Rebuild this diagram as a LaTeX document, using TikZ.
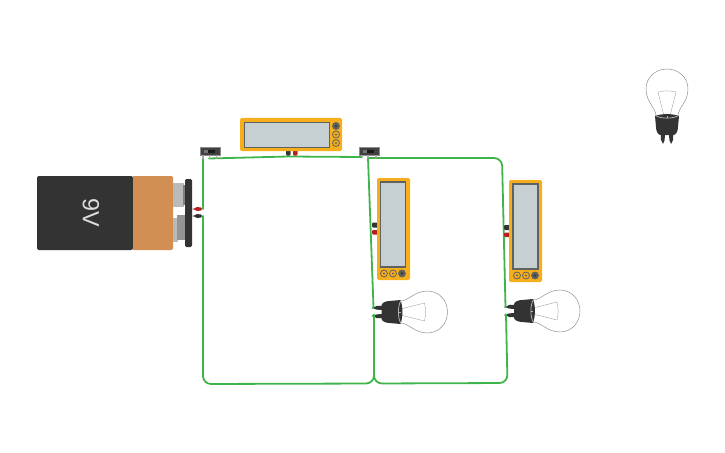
\documentclass[tikz,border=0pt]{standalone}
\usepackage{fontspec}
\setmainfont{Liberation Sans}
\definecolor{wiregreen}{HTML}{3FB44B}
\definecolor{dark}{HTML}{333333}
\definecolor{copperc}{HTML}{D18F53}
\definecolor{meterc}{HTML}{F6AE1C}
\definecolor{screenc}{HTML}{C6CFD1}
\definecolor{framec}{HTML}{5F6360}
\definecolor{redlead}{HTML}{B5201F}
\definecolor{pinc}{HTML}{A8A8A8}
\tikzset{
  wire/.style={draw=wiregreen,line width=1.35pt,line cap=round,line join=round},
  bentwire/.style={wire,rounded corners=6pt},
  pinline/.style={draw=pinc,line width=1pt},
  box/.style={rectangle,inner sep=0pt,outer sep=0pt,anchor=north west},
  switchbody/.style={box,fill=black!75,draw=black!45,line width=.5pt,minimum width=15pt,minimum height=5.6pt},
  meterbody/.style={fill=meterc,draw=none,rounded corners=1.5pt},
  meterscreen/.style={fill=screenc,draw=framec,line width=1.2pt},
  knob/.style={circle,draw=framec,fill=meterc,line width=.6pt,inner sep=0pt,minimum size=5.2pt,
     path picture={\fill[framec] (path picture bounding box.center) circle (.8pt);}},
  knobdark/.style={circle,draw=framec,fill=framec,line width=.6pt,inner sep=0pt,minimum size=5.2pt,
     path picture={\fill[black!75] (path picture bounding box.center) circle (1.2pt);}},
  blacklead/.style={fill=dark,draw=none,rounded corners=.8pt},
  redleadst/.style={fill=redlead,draw=none,rounded corners=.8pt},
  glass/.style={draw=black!45,line width=.35pt,fill=white},
  pics/bulb/.style={code={
    \path[glass] (-11,47) .. controls (-11,39) and (-21,33) .. (-21,20)
      .. controls (-21,8) and (-11,0) .. (0,0)
      .. controls (11,0) and (21,8) .. (21,20)
      .. controls (21,33) and (11,39) .. (11,47) -- cycle;
    \draw[draw=black!35,line width=.3pt] (-3,47) -- (-9,23) .. controls (-3,21.5) and (3,21.5) .. (9,23) -- (3,47);
    \fill[dark] (-6.5,66) .. controls (-9,66) and (-11,62) .. (-11,58) -- (-12,47)
      .. controls (-6,44.5) and (6,44.5) .. (12,47)
      -- (11,58) .. controls (11,62) and (9,66) .. (6.5,66) -- cycle;
    \draw[draw=black!30,line width=.6pt] (-11.5,46.5) .. controls (-6,50) and (6,50) .. (11.5,46.5);
    \draw[draw=black!30,line width=.3pt] (0,47) -- (0,49);
    \fill[dark] (-6.3,65) -- (-6,71) -- (-4,75) -- (-2.4,71) -- (-2,65) -- cycle;
    \fill[dark] (2,65) -- (2.4,71) -- (4,75) -- (6,71) -- (6.3,65) -- cycle;
    \coordinate (-a) at (-4,75);
    \coordinate (-b) at (4,75);
  }}
}
\begin{document}
\begin{tikzpicture}[x=.75pt,y=-.75pt]
\useasboundingbox (0,0) rectangle (725,453);

% named end points of the wiring
\coordinate (s1l) at (203,155);
\coordinate (s1r) at (209,158.5);
\coordinate (s2l) at (362,157);
\coordinate (s2r) at (368,158);
\coordinate (batp) at (203,209);
\coordinate (batn) at (203,216);
\coordinate (m1k) at (288,156.5);
\coordinate (b2k) at (373.5,307);
\coordinate (b2r) at (374,315);
\coordinate (b3k) at (505.5,307);
\coordinate (b3r) at (506,314.5);
\coordinate (corner) at (374,383.5);

% bulbs
\pic (bulbtop) at (667,69) {bulb};
\pic[rotate=-90] (bulbb) at (447.5,312) {bulb};
\pic[rotate=-90] (bulbc) at (580,311) {bulb};

% wires
\draw[wire] (batp) -- (s1l);
\draw[bentwire] (batn) -- (203,384) -- (corner) -- (b2r);
\draw[wire] (s1r) -- (m1k) -- (s2l);
\draw[wire] (s2r) -- (b2k);
\draw[bentwire] (s2r) -- (502,158) -- (b3k);
\draw[bentwire] (b3r) -- (507.5,383) -- (corner) -- (b2r);
\draw[wire] (bulbb-a) -- (b2k);
\draw[wire] (bulbb-b) -- (b2r);
\draw[wire] (bulbc-a) -- (b3k);
\draw[wire] (bulbc-b) -- (b3r);

% switches
\node[switchbody] (sw1) at (200,147.5) {};
\node[switchbody] (sw2) at (359,147.5) {};
\fill[black!55] (204,149.5) rectangle (208,153);
\fill[black!55] (363,149.5) rectangle (367,153);
\fill[black!90] (208,149.5) rectangle (215,153);
\fill[black!90] (367,149.5) rectangle (374,153);
\draw[pinline] (203,155) -- (203,159);
\draw[pinline] (209.5,155) -- (209.5,158.5);
\draw[pinline] (216.5,155) -- (216.5,158.5);
\draw[pinline] (362,155) -- (362,157);
\draw[pinline] (368,155) -- (368,158);
\draw[pinline] (376,155) -- (376,158);

% battery
\node[box,minimum width=96*.75pt,minimum height=74*.75pt,fill=dark,rounded corners=1.5pt] (batbody) at (37,176) {};
\node[box,minimum width=40*.75pt,minimum height=74*.75pt,fill=copperc,rounded corners=1pt] (batcop) at (133,176) {};
\fill[copperc] (133,176) rectangle (140,250);
\node[text=white!87!black,font=\fontsize{17.5pt}{17.5pt}\selectfont,rotate=-90] (vlabel) at (91,213) {9V};
\node[box,minimum width=11*.75pt,minimum height=24*.75pt,fill=black!27] (tp1) at (173,183) {};
\node[box,minimum width=3*.75pt,minimum height=20*.75pt,fill=black!50] (tp2) at (183,185) {};
\node[box,minimum width=5*.75pt,minimum height=24*.75pt,fill=black!27] (tn1) at (173,218) {};
\node[box,minimum width=9*.75pt,minimum height=25*.75pt,fill=black!42] (tn2) at (177,215) {};
\node[box,minimum width=7*.75pt,minimum height=68*.75pt,fill=dark,rounded corners=1pt] (clip) at (185,179) {};
\fill[redlead] (192,209) -- (194,208.5) -- (197,207) -- (201,207.5) -- (202,209) -- (201,210.5) -- (197,211) -- (194,209.5) -- cycle;
\fill[dark] (192,216) -- (194,215.5) -- (197,214) -- (201,214.5) -- (202,216) -- (201,217.5) -- (197,218) -- (194,216.5) -- cycle;

% horizontal meter
\fill[blacklead] (286,149) rectangle (290.5,155.5);
\fill[redleadst] (293,149) rectangle (297.5,155.5);
\node[box,meterbody,minimum width=102*.75pt,minimum height=33*.75pt] (m1) at (240,118) {};
\node[box,meterscreen,minimum width=85*.75pt,minimum height=25*.75pt] (m1s) at (244.5,122.5) {};
\node[knobdark] (m1a) at (336,126) {};
\node[knob] (m1b) at (336,134.5) {};
\node[knob] (m1c) at (336,143) {};

% vertical meter, left
\fill[blacklead] (372,222.5) rectangle (379,227.5);
\fill[redleadst] (372,230) rectangle (379,234.5);
\node[box,meterbody,minimum width=33*.75pt,minimum height=102*.75pt] (m2) at (377,178) {};
\node[box,meterscreen,minimum width=25*.75pt,minimum height=85*.75pt] (m2s) at (380.5,182) {};
\node[knob] (m2a) at (384,273.5) {};
\node[knob] (m2b) at (393,273.5) {};
\node[knobdark] (m2c) at (402,273.5) {};

% vertical meter, right
\fill[blacklead] (504,225) rectangle (511,230);
\fill[redleadst] (504,232.5) rectangle (511,237);
\node[box,meterbody,minimum width=33*.75pt,minimum height=102*.75pt] (m3) at (509,180) {};
\node[box,meterscreen,minimum width=25*.75pt,minimum height=85*.75pt] (m3s) at (513,184) {};
\node[knob] (m3a) at (517,275.5) {};
\node[knob] (m3b) at (526,275.5) {};
\node[knobdark] (m3c) at (535,275.5) {};
\end{tikzpicture}
\end{document}
